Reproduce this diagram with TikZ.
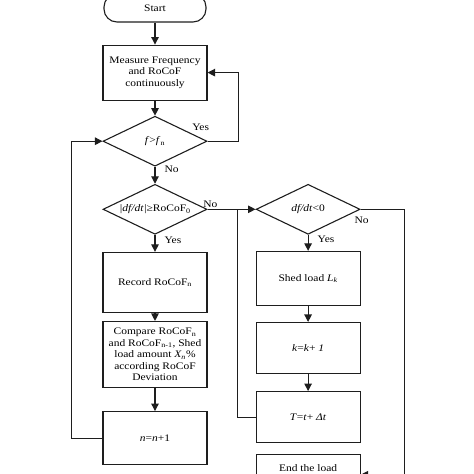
\documentclass[tikz,border=0pt]{standalone}
\usepackage{fontspec}
\setmainfont{Liberation Serif}[FakeStretch=1.15]
\usetikzlibrary{arrows.meta, positioning, shapes.geometric}
\definecolor{linegray}{RGB}{30,30,30}
\tikzset{
  proc/.style={rectangle, draw=linegray, line width=1.1pt, minimum width=104pt,
               align=center, inner sep=2pt, font=\fontsize{10}{11.5}\selectfont},
  term/.style={rectangle, rounded corners=13pt, draw=linegray, line width=1.1pt,
               minimum width=102pt, align=center, font=\fontsize{10}{11.5}\selectfont},
  dec/.style={diamond, draw=linegray, line width=1.1pt, minimum width=104pt,
              minimum height=50pt, inner sep=0pt, font=\fontsize{10}{11}\selectfont},
  lbl/.style={font=\fontsize{10}{11}\selectfont, inner sep=1pt},
  arr/.style={-{Triangle[length=7.5pt,width=7.5pt]}, line width=1.1pt, draw=linegray},
  link/.style={line width=1.1pt, draw=linegray}
}
\newcommand{\dtext}[1]{\makebox[0pt]{#1}}

\begin{document}
\begin{tikzpicture}[x=1pt, y=-1pt]
\useasboundingbox (0,0) rectangle (474,474);
% left column
\node[term, minimum height=28pt] (start) at (155,8) {\raisebox{-3pt}{Start}};
\node[proc, minimum height=55pt, below=22pt of start] (meas) {Measure Frequency\\and RoCoF\\continuously};
\node[dec, below=15pt of meas] (d1) {\dtext{\textit{f}>\textit{f}\textsubscript{n}}};
\node[dec, below=17pt of d1] (d2) {\dtext{\textit{|df/dt|}≥RoCoF\textsubscript{0}}};
\node[proc, minimum height=60pt, below=17pt of d2] (rec) {Record RoCoF\textsubscript{n}};
\node[proc, minimum height=66pt, below=8pt of rec] (cmp) {Compare RoCoF\textsubscript{n}\\and RoCoF\textsubscript{n-1}, Shed\\load amount \textit{X\textsubscript{n}}\%\\according RoCoF\\Deviation};
\node[proc, minimum height=53pt, below=23pt of cmp] (nplus) {\textit{n}=\textit{n}+1};
% right column
\node[dec, right=48pt of d2] (d3) {\dtext{\textit{df/dt}<0}};
\node[proc, minimum height=54pt, below=16pt of d3] (shed) {Shed load \textit{L\textsubscript{k}}};
\node[proc, minimum height=51pt, below=16pt of shed] (kplus) {\textit{k}=\textit{k}+ \textit{1}};
\node[proc, minimum height=51pt, below=17pt of kplus] (tplus) {\textit{T}=\textit{t}+ \textit{Δt}};
\node[proc, minimum height=40pt, below=11pt of tplus] (endb) {End the load\\shedding process};
\coordinate (jn) at ([xshift=-18pt]d3.west);
% connectors
\draw[arr] (start) -- (meas);
\draw[arr] (meas) -- (d1);
\draw[arr] (d1.east) -- node[lbl, above left, pos=0, xshift=3pt, yshift=9pt] (y1) {Yes} ++(31pt,0) |- (meas.east);
\draw[arr] (d1) -- node[lbl, right, pos=0.15, xshift=8pt] (n1) {No} (d2);
\draw[arr] (d2.east) -- node[lbl, above, pos=0.06] (n2) {No} (d3.west);
\draw[arr] (d2) -- node[lbl, right, pos=0.3, xshift=8pt] (y2) {Yes} (rec);
\draw[arr] (rec) -- (cmp); \draw[arr] (cmp) -- (nplus);
\draw[arr] (nplus.west) -- ++(-31pt,0) |- (d1.west);
\draw[arr] (d3) -- node[lbl, right, pos=0.3, xshift=8pt] (y3) {Yes} (shed);
\draw[arr] (shed) -- (kplus); \draw[arr] (kplus) -- (tplus);
\draw[link] (tplus.west) -| (jn);
\draw[arr] (d3.east) -- node[lbl, below, pos=0.02, yshift=-6pt] (n3) {No} ++(44pt,0) |- (endb.east);
\end{tikzpicture}
\end{document}
